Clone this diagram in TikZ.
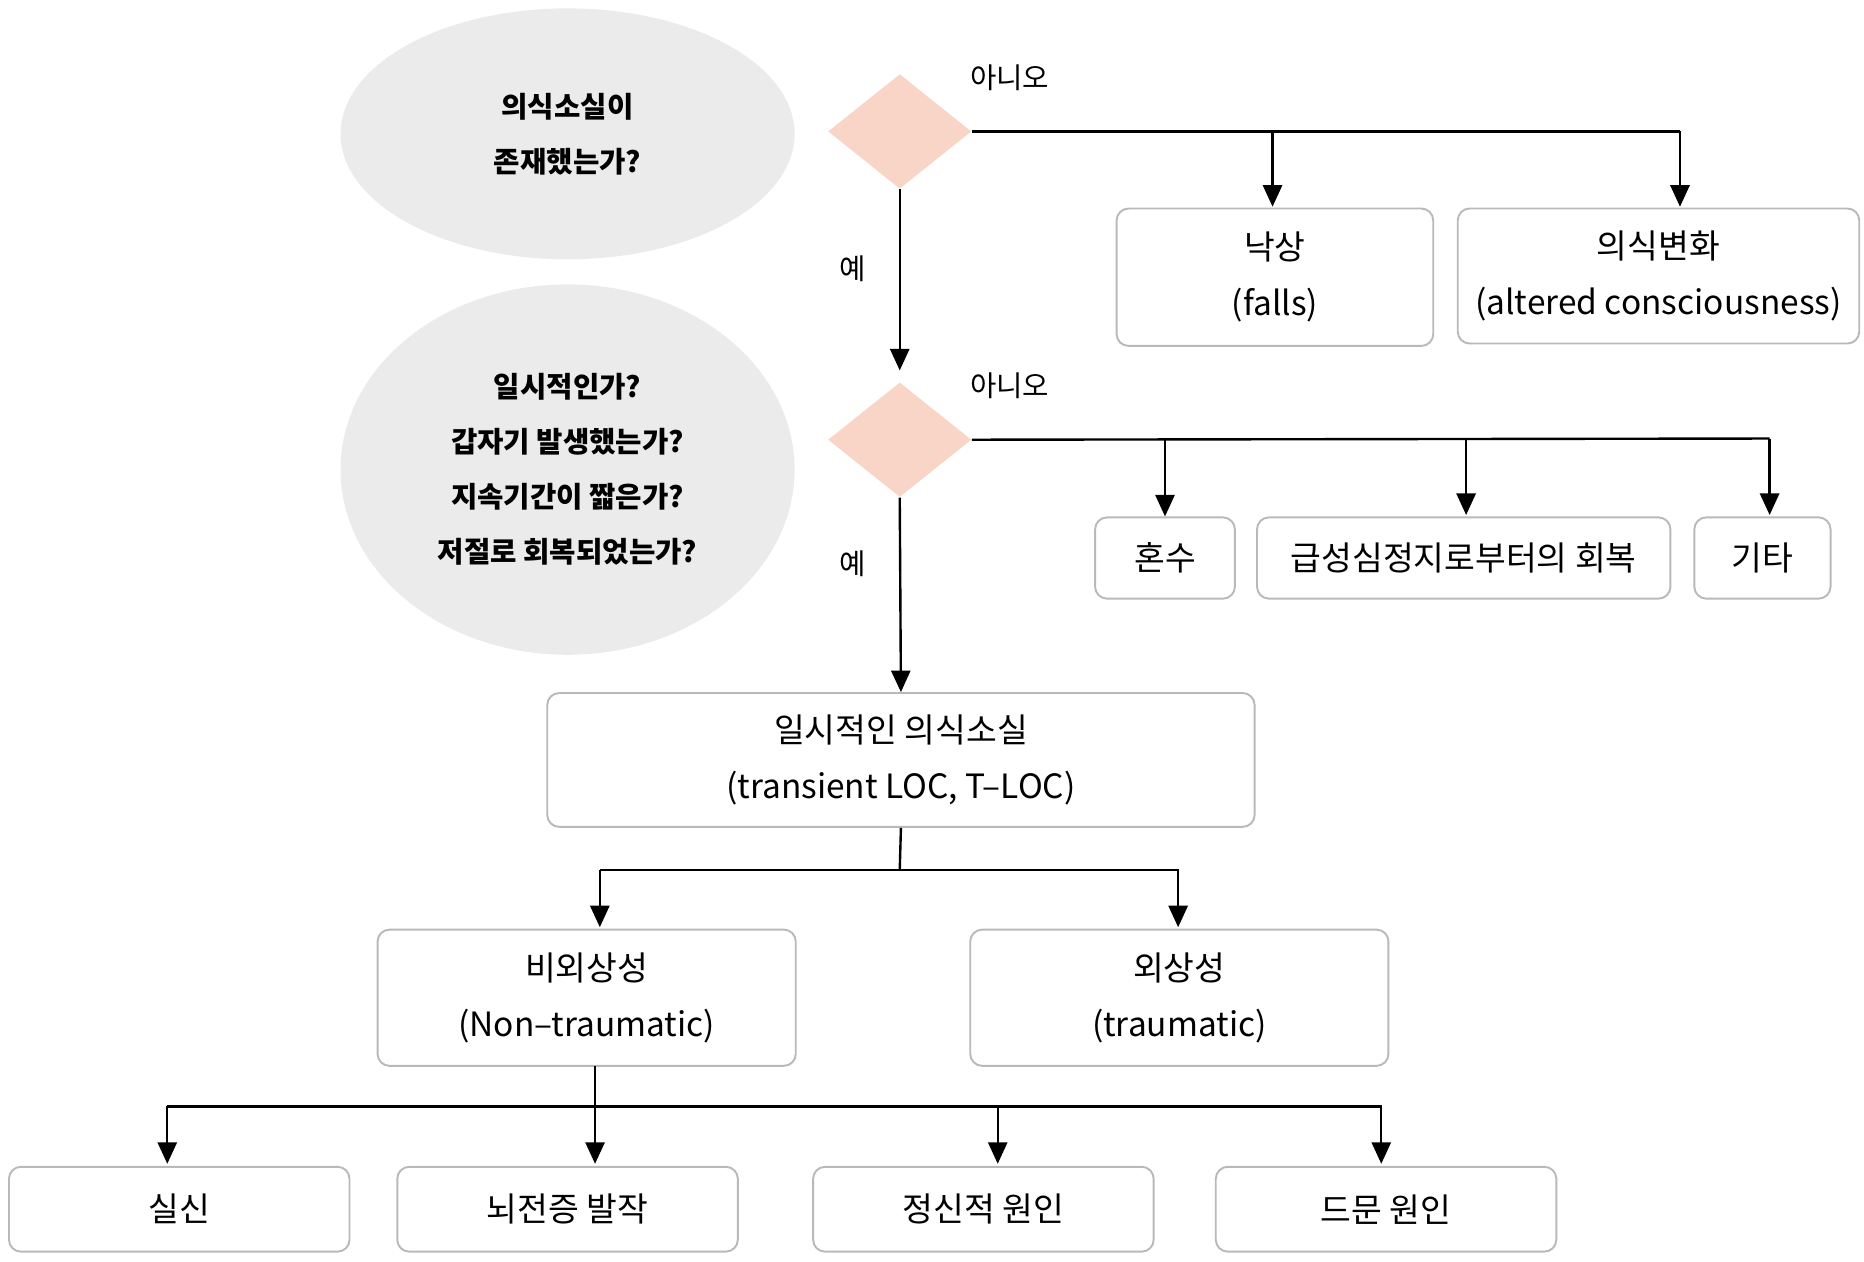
\documentclass[tikz,border=0pt]{standalone}
\usepackage{fontspec}
\setmainfont{Noto Sans CJK KR}
\usetikzlibrary{shapes.geometric,arrows.meta,calc}
\definecolor{bubble}{RGB}{235,235,235}
\definecolor{decide}{RGB}{249,213,200}
\definecolor{edge}{RGB}{185,185,185}
\tikzset{
  box/.style={draw=edge, line width=0.8pt, rounded corners=5pt, fill=white, align=center,
    inner sep=0pt, font=\fontsize{14}{23.5}\selectfont},
  bubble/.style={ellipse, fill=bubble, align=center, inner sep=0pt,
    font=\bfseries\fontsize{12}{23}\selectfont},
  decide/.style={diamond, fill=decide, inner sep=0pt, minimum width=60pt, minimum height=48pt},
  lab/.style={font=\fontsize{12}{14}\selectfont},
  arr/.style={-{Triangle[length=9pt,width=8pt]}, line width=1pt},
  ln/.style={line width=1pt}
}
\begin{document}
\begin{tikzpicture}[x=0.5pt, y=-0.5pt]
    \useasboundingbox (0,0) rectangle (1560,1056);
    % questions
    \node[bubble, minimum width=190pt, minimum height=105pt] (q1) at (475,112)
        {의식소실이\\존재했는가?};
    \node[bubble, minimum width=190pt, minimum height=155pt] (q2) at (475,393)
        {일시적인가?\\갑자기 발생했는가?\\지속기간이 짧은가?\\저절로 회복되었는가?};
    \node[decide] (d1) at (753,110) {};
    \node[decide] (d2) at (753,368) {};
    \node[lab] (n1) at (845,65) {아니오};
    \node[lab] (n2) at (845,323) {아니오};
    \node[lab] (y1) at (714,225) {예};
    \node[lab] (y2) at (714,472) {예};
    % boxes
    \node[box, minimum width=132.5pt, minimum height=57.5pt] (falls) at (1067,232) {낙상\\(falls)};
    \node[box, minimum width=168pt, minimum height=56.5pt] (alt) at (1388,231) {의식변화\\(altered consciousness)};
    \node[box, minimum width=58.5pt, minimum height=34pt] (coma) at (975,467) {혼수};
    \node[box, minimum width=173pt, minimum height=34pt] (arrest) at (1225,467) {급성심정지로부터의 회복};
    \node[box, minimum width=57pt, minimum height=34pt] (etc) at (1475,467) {기타};
    \node[box, minimum width=296pt, minimum height=56pt] (tloc) at (754,636) {일시적인 의식소실\\(transient LOC, T--LOC)};
    \node[box, minimum width=175pt, minimum height=57pt] (ntr) at (491,835) {비외상성\\(Non--traumatic)};
    \node[box, minimum width=175pt, minimum height=57pt] (tr) at (987,835) {외상성\\(traumatic)};
    \node[box, minimum width=142.5pt, minimum height=35.5pt] (syn) at (150,1012) {실신};
    \node[box, minimum width=142.5pt, minimum height=35.5pt] (epi) at (475,1012) {뇌전증 발작};
    \node[box, minimum width=142.5pt, minimum height=35.5pt] (psy) at (823,1012) {정신적 원인};
    \node[box, minimum width=142.5pt, minimum height=35.5pt] (rare) at (1160,1012) {드문 원인};
    % connectors
    \draw[ln] (d1.east) -- (1406,110);
    \draw[arr] (1065,110) -- (1065,173);
    \draw[arr] (1406,110) -- (1406,173);
    \draw[arr] (d1.south) -- (753,310);
    \draw[ln] (d2.east) -- (1481,367);
    \draw[arr] (975,367) -- (coma.north);
    \draw[arr] (1227,367) -- (1227,431);
    \draw[arr] (1481,367) -- (1481,431);
    \draw[arr] (d2.south) -- (tloc.north);
    \draw[ln] (tloc.south) -- (753,728);
    \draw[arr] (502,728) -- (502,776);
    \draw[arr] (502,728) -| (986,776);
    \draw[ln] (498,892) -- (498,926);
    \draw[arr] (140,926) -- (140,974);
    \draw[arr] (498,926) -- (498,974);
    \draw[arr] (835,926) -- (835,974);
    \draw[arr] (140,926) -| (1156,974);
\end{tikzpicture}
\end{document}
